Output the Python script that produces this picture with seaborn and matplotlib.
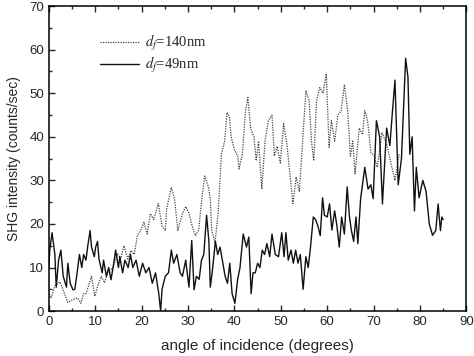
import numpy as np
import pandas as pd
import matplotlib
matplotlib.use("Agg")
import matplotlib.pyplot as plt
import seaborn as sns

# 49 nm film (solid)
angle_49 = [0.0, 0.2, 0.7, 1.3, 1.6, 2.1, 2.6, 3.1, 3.8, 4.1, 4.6, 5.2, 5.6, 6.1, 6.6, 7.1, 7.5, 8.0, 8.4, 8.9,
            9.2, 9.8, 10.1, 10.5, 10.8, 11.5, 11.8, 12.4, 12.9, 13.4, 14.0, 14.4, 15.0, 15.3, 15.9, 16.4, 17.1, 17.6,
            18.1, 18.8, 19.5, 20.2, 20.9, 21.6, 22.3, 23.0, 23.7, 24.1, 24.4, 25.1, 25.8, 26.4, 26.9, 27.6, 28.3,
            28.8, 29.5, 30.2, 30.8, 31.3, 31.8, 32.4, 32.9, 33.4, 34.0, 34.5, 34.8, 35.2, 35.9, 36.4, 36.9, 37.5,
            38.0, 38.5, 39.0, 39.5, 40.1, 40.7, 41.2, 41.9, 42.6, 43.1, 43.6, 44.0, 44.5, 45.0, 45.5, 46.0, 46.5,
            47.0, 47.6, 48.1, 48.8, 49.5, 50.2, 50.7, 51.1, 51.6, 52.2, 52.7, 53.2, 53.7, 54.2, 54.8, 55.4, 55.9,
            56.4, 57.0, 57.5, 58.0, 58.5, 59.0, 59.4, 60.0, 60.5, 61.0, 61.6, 62.1, 62.6, 63.1, 63.7, 64.3, 64.8,
            65.2, 65.7, 66.2, 66.6, 67.2, 67.6, 68.1, 68.8, 69.4, 69.9, 70.6, 71.3, 71.9, 72.8, 73.5, 74.0, 74.6,
            75.3, 76.0, 76.9, 77.4, 77.8, 78.3, 78.8, 79.2, 79.8, 80.6, 81.3, 82.0, 82.7, 83.4, 83.9, 84.4, 84.7, 85.0]
shg_49 = [10, 14, 18, 13, 5.5, 11.7, 14, 8, 5.5, 11, 6.4, 4.9, 5, 8.8, 13, 10, 13, 11.7, 15, 18.5,
          14.7, 12.5, 14.7, 16, 12, 8.8, 11.7, 8, 10, 7.2, 11, 14, 10, 12.5, 8.8, 11.7, 10, 13,
          10, 11.7, 8, 11, 8.8, 10, 6.4, 8.8, 4, 0, 5, 8, 8.8, 14, 11, 13, 8.8,
          8, 11.7, 5.5, 16.2, 4.9, 8, 7.3, 11.7, 13, 22, 16, 5.5, 8.8, 16, 13, 14.7, 11,
          8, 6.4, 11, 4, 1.8, 7.3, 10, 17.7, 14.7, 17, 4, 8.8, 8.8, 11, 10, 14, 13,
          15.5, 12.5, 17.7, 13, 12.5, 18, 12.5, 18, 11.7, 14, 11, 14, 11, 13, 5, 12.5, 10,
          14.7, 21.6, 21, 19.5, 17.3, 26, 22, 21.6, 24.6, 18.6, 23, 19.5, 14.7, 21.6, 17.7, 28.5, 21.6,
          18.6, 16, 21.6, 15.5, 25.8, 29, 33, 28, 29, 25.8, 43.7, 40, 24.6, 42, 38, 45, 53,
          29, 35, 58, 53.7, 36, 40, 23, 33, 26, 30, 27.5, 20, 17.4, 18.5, 24.6, 18.5, 21.6, 21]

# 140 nm film (dotted)
angle_140 = [0.0, 0.5, 1.3, 2.4, 3.4, 4.1, 5.2, 6.2, 6.9, 7.5, 8.0, 8.5, 9.2, 9.9, 10.6, 11.3, 12.0, 12.7, 13.8,
             14.8, 15.5, 16.2, 17.0, 17.7, 18.4, 19.1, 19.8, 20.5, 21.2, 21.9, 22.6, 23.6, 24.4, 25.1, 25.4, 26.4,
             27.1, 27.8, 28.8, 29.5, 30.2, 30.9, 31.6, 32.3, 33.0, 33.6, 34.4, 34.8, 35.1, 35.8, 36.5, 37.2, 37.9,
             38.4, 38.9, 39.3, 40.0, 40.7, 41.0, 41.7, 42.4, 42.9, 43.5, 44.2, 44.7, 45.2, 45.9, 46.6, 47.3, 48.1,
             48.6, 49.2, 49.9, 50.6, 51.3, 52.0, 52.6, 53.3, 54.0, 54.7, 55.4, 56.1, 56.6, 57.1, 57.7, 58.4, 59.1,
             59.8, 60.4, 60.9, 61.6, 62.3, 63.0, 63.7, 64.4, 65.0, 65.5, 66.0, 66.9, 67.6, 68.1, 68.7, 69.4, 70.1,
             70.8, 71.8, 72.9, 73.6, 74.6, 75.5]
shg_140 = [4, 3, 5.8, 6.7, 4, 2, 2.7, 3, 1.8, 4, 4, 5.6, 8, 3.4, 6, 8, 6.5, 8.8, 10,
           13.2, 12, 15, 12, 13.9, 13, 17.4, 18.5, 20.4, 17.7, 22.4, 21, 24.7, 19.5, 18.5, 23.5, 28.4,
           25.7, 18.5, 22.4, 24, 22.5, 19.5, 17.3, 18.6, 26, 31, 28.5, 25.7, 18.6, 15.7, 22.6, 36, 39,
           45.6, 44.6, 40, 37, 35.6, 32.6, 36, 46, 49, 42, 40, 34.5, 39, 28, 39, 43.7, 45,
           35.6, 37.8, 34, 43, 38.4, 31, 24.7, 30.8, 27.4, 39, 50.6, 48.3, 39, 34.5, 48.3, 51.3, 50,
           54.5, 37.6, 43.7, 39, 45, 46, 52, 46, 35.6, 39, 31.5, 42, 40.5, 46, 43.7, 36.5, 35.6,
           33, 41, 38, 34.5, 30, 36]

x_ticks = [0, 10, 20, 30, 40, 50, 60, 70, 80, 90]
y_ticks = [0, 10, 20, 30, 40, 50, 60, 70]

df49 = pd.DataFrame({"angle": angle_49, "shg": shg_49})
df140 = pd.DataFrame({"angle": angle_140, "shg": shg_140})

sns.set_style("ticks")
plt.rcParams["font.family"] = ["Liberation Sans", "DejaVu Sans"]
plt.rcParams["mathtext.fontset"] = "stix"

fig = plt.figure(figsize=(4.74, 3.56), dpi=100)
ax = fig.add_axes([0.103, 0.126, 0.881, 0.857])

sns.lineplot(data=df140, x="angle", y="shg", ax=ax, color="#444444", lw=0.9,
             linestyle=(0, (1, 1)), label=r"$d_f$=140nm", estimator=None, sort=False)
sns.lineplot(data=df49, x="angle", y="shg", ax=ax, color="#111111", lw=1.0,
             label=r"$d_f$=49nm", estimator=None, sort=False)

ax.set_xlim(0, 90)
ax.set_ylim(0, 70)
ax.set_xticks(x_ticks)
ax.set_yticks(y_ticks)
ax.set_xticks(np.arange(5, 90, 10), minor=True)
ax.set_yticks(np.arange(5, 70, 10), minor=True)
ax.tick_params(which="both", direction="in", top=True, right=False, width=1.0, labelsize=9.5)
ax.tick_params(which="major", length=4.5)
ax.tick_params(which="minor", length=2.5)
for s in ax.spines.values():
    s.set_linewidth(1.1)
    s.set_color("black")

ax.set_xlabel("angle of incidence (degrees)", fontsize=11, labelpad=8)
ax.set_ylabel("SHG intensity (counts/sec)", fontsize=10, labelpad=6)

leg = ax.legend(loc="upper left", bbox_to_anchor=(0.09, 0.955), frameon=False,
                prop={"family": "Liberation Serif", "size": 10.5}, handlelength=2.7,
                handletextpad=0.4, labelspacing=0.15)

fig.savefig("out.png", dpi=100)
